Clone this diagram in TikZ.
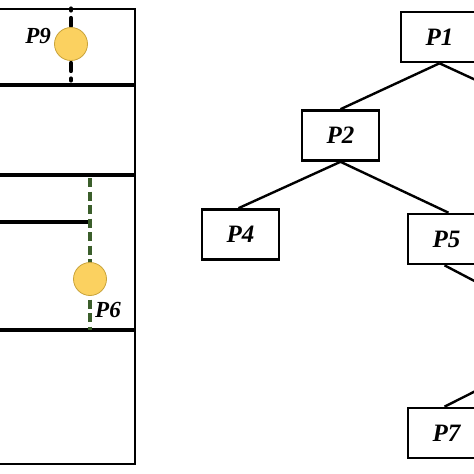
\documentclass[tikz,border=0pt]{standalone}
\usepackage{fontspec}
\setmainfont{Liberation Serif}
\usepackage{tikz}
\usetikzlibrary{positioning,calc}

\definecolor{ballfill}{HTML}{FBD160}
\definecolor{balldraw}{HTML}{C9A33A}
\definecolor{pathgreen}{HTML}{3B5E2B}

\begin{document}
\begin{tikzpicture}[x=1pt,y=-1pt,
    pbox/.style={draw, line width=2.6pt, minimum width=77pt, minimum height=50pt,
      font=\fontsize{25}{28}\selectfont\bfseries\itshape, inner sep=0pt},
    ball/.style={circle, fill=ballfill, draw=balldraw, line width=0.8pt, minimum size=33pt, inner sep=0pt},
    plabel/.style={font=\fontsize{23}{25}\selectfont\bfseries\itshape, inner sep=0pt},
    branch/.style={line width=2.4pt}]
  \useasboundingbox (0,0) rectangle (474,474);
  \clip (0,0) rectangle (474,474);

  % Left panel - floor plan
  \draw[line width=2.2pt] (-5,9) -- (135,9) -- (135,464) -- (-5,464);
  \foreach \y in {85,175,330} {
    \draw[line width=4.5pt] (-5,\y) -- (136,\y);
  }
  \draw[line width=3.2pt] (-5,222) -- (90,222);

  % Path of P9
  \foreach \a/\b in {8.5/10.5,18/26,63/71,78.5/80.5} {
    \draw[line width=4.2pt, line cap=round] (71,\a) -- (71,\b);
  }
  \node[ball] (p9dot) at (71,44) {};
  \node[plabel, left=3pt of p9dot.west, yshift=8pt] (p9) {P9};

  % Path of P6
  \draw[pathgreen, line width=3.4pt, dash pattern=on 9pt off 4.5pt] (90,178) -- (90,330);
  \node[ball] (p6dot) at (90,279) {};
  \node[plabel, anchor=west] (p6) at (95,310) {P6};

  % Right panel - tree
  \node[pbox] (P1) at (439.5,37) {P1};
  \node[pbox] (P2) at (340.5,135.5) {P2};
  \node[pbox] (P4) at (240.5,234.5) {P4};
  \node[pbox] (P5) at (446.5,239) {P5};
  \node[pbox] (P7) at (446.5,433) {P7};

  % Branches leaving the picture
  \coordinate (P3) at (545,112);
  \coordinate (P6) at (545,318);
  \coordinate (P8) at (545,356);

  \draw[branch] (P1.south) -- (P2.north);
  \draw[branch] (P1.south) -- (P3);
  \draw[branch] (P2.south) -- ([xshift=-2pt]P4.north);
  \draw[branch] (P2.south) -- ([xshift=2pt]P5.north);
  \draw[branch] ([xshift=-2pt]P5.south) -- (P6);
  \draw[branch] ([xshift=-2pt]P7.north) -- (P8);
\end{tikzpicture}
\end{document}
